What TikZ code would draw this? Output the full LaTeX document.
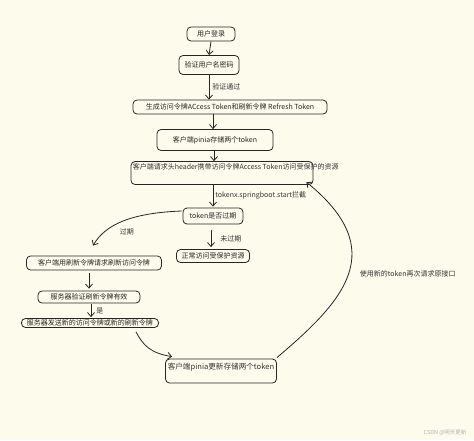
\documentclass[tikz,border=0pt]{standalone}
\usepackage{fontspec}
\setmainfont{Noto Sans CJK SC}
\usepackage{tikz}
\usetikzlibrary{arrows.meta,positioning,calc}
\definecolor{paper}{HTML}{FDFBEC}

\begin{document}
\begin{tikzpicture}[x=1pt, y=-1pt,
    box/.style={draw=black!85, line width=0.8pt, rounded corners=4pt, inner sep=1.5pt, font=\fontsize{7}{8}\selectfont, text=black!85},
    arr/.style={-{Straight Barb[length=4pt, width=7pt]}, line width=0.8pt, draw=black!85},
    lbl/.style={font=\fontsize{7}{8}\selectfont, text=black!80, inner sep=1pt}
]
\fill[paper] (0,0) rectangle (474,440);
\useasboundingbox (0,0) rectangle (474,440);

\node[box, minimum width=48, minimum height=14] (login) at (211,34) {用户登录};
\node[box, minimum width=60, minimum height=19] (pwd) at (209,65) {验证用户名密码};
\node[box, minimum width=194, minimum height=14] (gen) at (230,107) {生成访问令牌ACcess Token和刷新令牌 Refresh Token};
\node[box, minimum width=116, minimum height=21] (store) at (215,140) {客户端pinia存储两个token};
\node[box, minimum width=182, minimum height=23,
      label={[lbl, anchor=north west, inner sep=0pt, xshift=2pt, yshift=-2.5pt]north west:客户端请求头header携带访问令牌Access Token访问受保护的资源}] (req) at (222,173) {};
\node[box, minimum width=60, minimum height=16] (expire) at (213,216) {token是否过期};
\node[box, minimum width=73, minimum height=13] (normal) at (213,256) {正常访问受保护资源};
\node[box, minimum width=135, minimum height=14] (refreq) at (94,263) {客户端用刷新令牌请求刷新访问令牌};
\node[box, minimum width=102, minimum height=12] (verify) at (89,297) {服务器验证刷新令牌有效};
\node[box, minimum width=137, minimum height=9, inner sep=0.5pt] (send) at (90,323) {服务器发送新的访问令牌或新的刷新令牌};
\node[box, minimum width=111, minimum height=24,
      label={[lbl, font=\fontsize{7.6}{9}\selectfont, anchor=north, inner sep=0pt, yshift=-4pt]north:客户端pinia更新存储两个token}] (update) at (221,371) {};

\draw[arr] (login.south) -- (209,55);
\draw[arr] (pwd) -- node[lbl, right=2pt] {验证通过} (pwd |- gen.north);
\draw[arr] ($(gen.south)+(-17,0)$) -- ($(store.north)+(-2,0)$);
\draw[arr] ($(store.south)+(-1,0)$) -- ($(req.north)+(-8,0)$);
\draw[arr] ($(req.south)+(-9,0)$) -- node[lbl, right=1pt] {tokenx.springboot.start拦截} ($(expire.north)+(0,-1)$);
\draw[arr] ($(expire.south)+(-2,6)$) -- node[lbl, right=8pt] {未过期} ($(normal.north)+(-2,-2)$);
\draw[arr] ($(expire.west)+(-1,-5)$) .. controls (130,213) and (105,225) .. node[lbl, pos=0.45, below=8pt] {过期} ($(refreq.north)+(-1,-10)$);
\draw[arr] ($(refreq.south)+(-5,3)$) -- ($(verify.north)+(0,-2)$);
\draw[arr] ($(verify.south)+(2,1)$) -- node[lbl, right=4pt] {是} ($(send.north)+(1,-1)$);
\draw[arr] ($(send.south)+(46,4)$) .. controls (143,345) and (150,353) .. ($(update.north west)+(7,-2)$);
\draw[arr] ($(update.north east)+(0,-1)$) .. controls (345,300) and (390,250) .. node[lbl, pos=0.5, right=10pt] {使用新的token再次请求原接口} ($(req.north east)+(-7,21)$);

\node[font=\fontsize{5.5}{6}\selectfont, text=black!30, anchor=east] (mark) at (470,433) {CSDN @明天更新};
\end{tikzpicture}
\end{document}
